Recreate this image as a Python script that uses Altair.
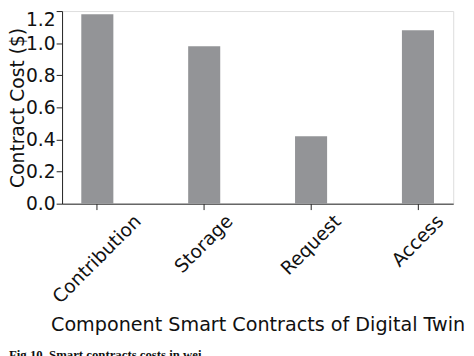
import altair as alt
import pandas as pd

categories = ["Contribution", "Storage", "Request", "Access"]
costs = [1.18, 0.98, 0.42, 1.08]
y_ticks = [0.0, 0.2, 0.4, 0.6, 0.8, 1.0, 1.2]
# horizontal shift that centres each rotated label's box under its tick
label_shift = {"Contribution": 35, "Storage": 19.5, "Request": 21, "Access": 16.5}

df = pd.DataFrame({"component": categories, "cost": costs})

offset_cond = {
    "condition": [
        {"test": f"datum.value === '{k}'", "value": v} for k, v in label_shift.items()
    ],
    "value": 0,
}

font = "DejaVu Sans"

chart = (
    alt.Chart(df)
    .mark_bar(color="#939497")
    .encode(
        x=alt.X(
            "component:N",
            sort=categories,
            scale=alt.Scale(paddingInner=0.7, paddingOuter=0.18),
            axis=alt.Axis(
                title="Component Smart Contracts of Digital Twin",
                titleFont=font,
                titleFontSize=19.5,
                titleFontWeight="normal",
                titleColor="#111",
                titlePadding=9,
                labelFont=font,
                labelFontSize=19,
                labelColor="#111",
                labelAngle=-45,
                labelAlign="right",
                labelBaseline="top",
                labelPadding=2,
                labelOffset=offset_cond,
                tickSize=6,
                tickColor="#222",
                domainColor="#222",
                labelOverlap=False,
            ),
        ),
        y=alt.Y(
            "cost:Q",
            scale=alt.Scale(domain=[0, 1.2], nice=False, zero=True),
            axis=alt.Axis(
                title="Contract Cost ($)",
                titleFont=font,
                titleFontSize=19,
                titleFontWeight="normal",
                titleColor="#111",
                titleX=-39,
                titleY=98,
                titleAngle=-90,
                titleAlign="center",
                titleBaseline="alphabetic",
                values=y_ticks,
                format=".1f",
                labelFont=font,
                labelFontSize=19,
                labelColor="#111",
                labelPadding=1,
                labelBaseline={
                    "condition": {"test": "datum.value >= 1.2", "value": "top"},
                    "value": "middle",
                },
                tickSize=6,
                tickColor="#222",
                domainColor="#222",
                grid=False,
            ),
        ),
    )
    .properties(
        width=398,
        height=196,
        autosize=alt.AutoSizeParams(type="none"),
        padding={"left": 55, "top": 0, "right": 13, "bottom": 160},
        title=alt.TitleParams(
            text="Fig 10. Smart contracts costs in wei",
            orient="bottom",
            anchor="start",
            frame="bounds",
            font="Liberation Serif",
            fontSize=13,
            fontWeight="bold",
            color="#111",
            offset=16,
        ),
    )
    .configure_view(stroke="#222", strokeWidth=1)
    .configure(background="white")
)

chart.save("out.html", embed_options={"renderer": "svg", "actions": False})
